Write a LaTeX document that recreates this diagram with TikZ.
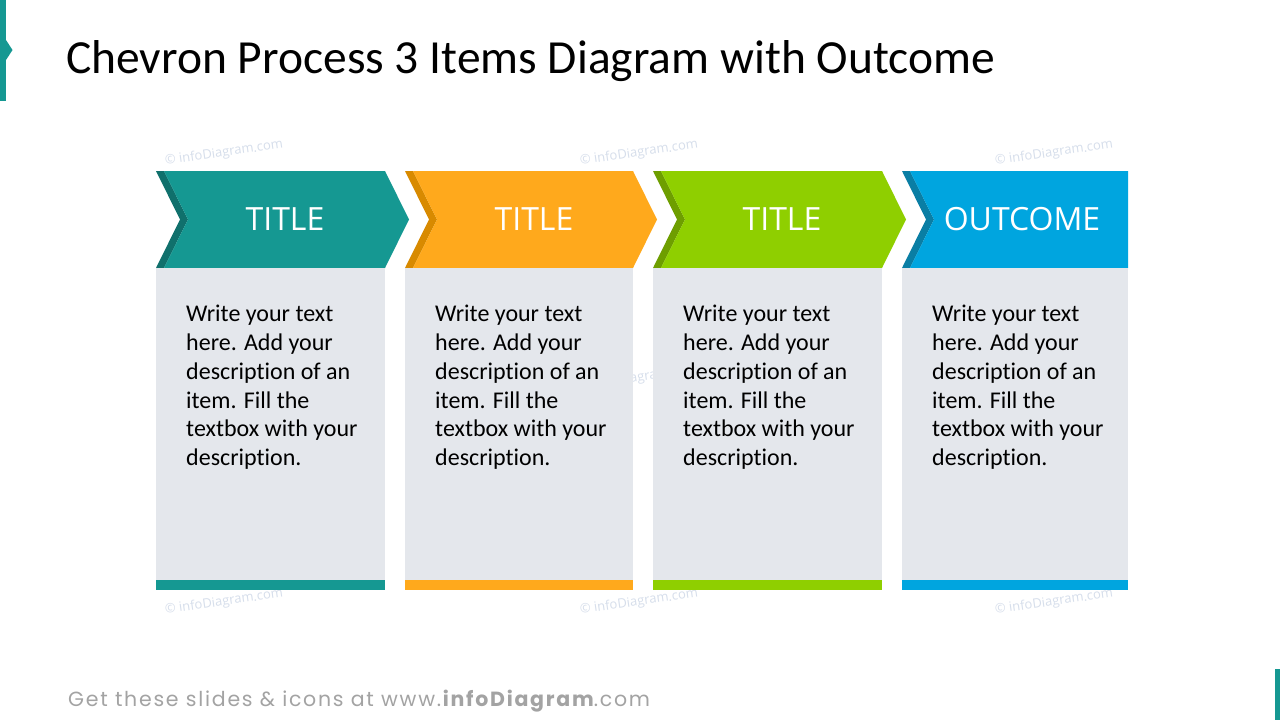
\documentclass[tikz,border=0pt]{standalone}
\usepackage{fontspec}
\setmainfont[Ligatures=NoCommon]{Carlito}
\newfontfamily\osans{Open Sans}
\newfontfamily\popp[LetterSpace=8.5]{Poppins}
\definecolor{tealc}{HTML}{159892}
\definecolor{tealdk}{HTML}{10706C}
\definecolor{orngc}{HTML}{FFA91C}
\definecolor{orngdk}{HTML}{D88A00}
\definecolor{grnc}{HTML}{8FCF00}
\definecolor{grndk}{HTML}{6E9E00}
\definecolor{bluc}{HTML}{00A5DF}
\definecolor{bludk}{HTML}{0A7EA4}
\definecolor{boxgray}{HTML}{E4E7EC}
\definecolor{footgray}{HTML}{A3A3A3}
\definecolor{wmark}{HTML}{D6DEEB}
\tikzset{
  ttl/.style={text=white, inner sep=0, font=\osans\fontsize{32}{38}\selectfont},
  bodytxt/.style={anchor=north west, inner sep=0, align=left, text=black, font=\fontsize{24}{28.8}\selectfont},
  wm/.style={text=wmark, inner sep=0, rotate=8, font=\osans\fontsize{13}{15}\selectfont}
}
\begin{document}
\begin{tikzpicture}[x=1pt,y=-1pt]
\useasboundingbox (0,0) rectangle (1280,720);
\fill[white] (0,0) rectangle (1280,720);
% watermarks
\foreach \wx/\wy [count=\i] in {224/153, 639/153, 1054/153, 639/378, 224/602, 639/602, 1054/602}
  \node[wm] (wm\i) at (\wx,\wy) {\textcopyright{} infoDiagram.com};
% accents
\fill[tealc] (0,0) rectangle (6,101);
\fill[tealc] (6,40) -- (12.5,50) -- (6,60) -- cycle;
\fill[tealc] (1275,669) rectangle (1280,720);
% chevrons and boxes
\foreach \L/\R/\c/\d/\tip in {156/385/tealc/tealdk/24, 405/633/orngc/orngdk/24, 653/882/grnc/grndk/24, 902/1128/bluc/bludk/0}
{
  \fill[\d] (\L,171) -- (\L+8,171) -- (\L+32,219.5) -- (\L+8,268) -- (\L,268) -- (\L+24,219.5) -- cycle;
  \fill[\c] (\L+8,171) -- (\R,171) -- (\R+\tip,219.5) -- (\R,268) -- (\L+8,268) -- (\L+32,219.5) -- cycle;
  \fill[boxgray] (\L,268) rectangle (\R,580);
  \fill[\c] (\L,580) rectangle (\R,590);
}
% title
\node[anchor=base west, inner sep=0, font=\fontsize{47.5}{56}\selectfont] (title) at (66,73) {Chevron Process 3 Items Diagram with Outcome};
% chevron labels
\node[ttl] (t1) at (285,219.5) {TITLE};
\node[ttl] (t2) at (534,219.5) {TITLE};
\node[ttl] (t3) at (782,219.5) {TITLE};
\node[ttl] (t4) at (1022,219.5) {OUTCOME};
% body texts
\foreach \bx [count=\i] in {186,435,683,932}
  \node[bodytxt] (b\i) at (\bx,305) {Write your text\\here. Add your\\description of an\\item. Fill the\\textbox with your\\description.};
% footer
\node[anchor=base west, inner sep=0, text=footgray, font=\popp\fontsize{20.5}{24}\selectfont] (foot) at (68,706) {Get these slides \& icons at www.\textbf{infoDiagram}.com};
\end{tikzpicture}
\end{document}
